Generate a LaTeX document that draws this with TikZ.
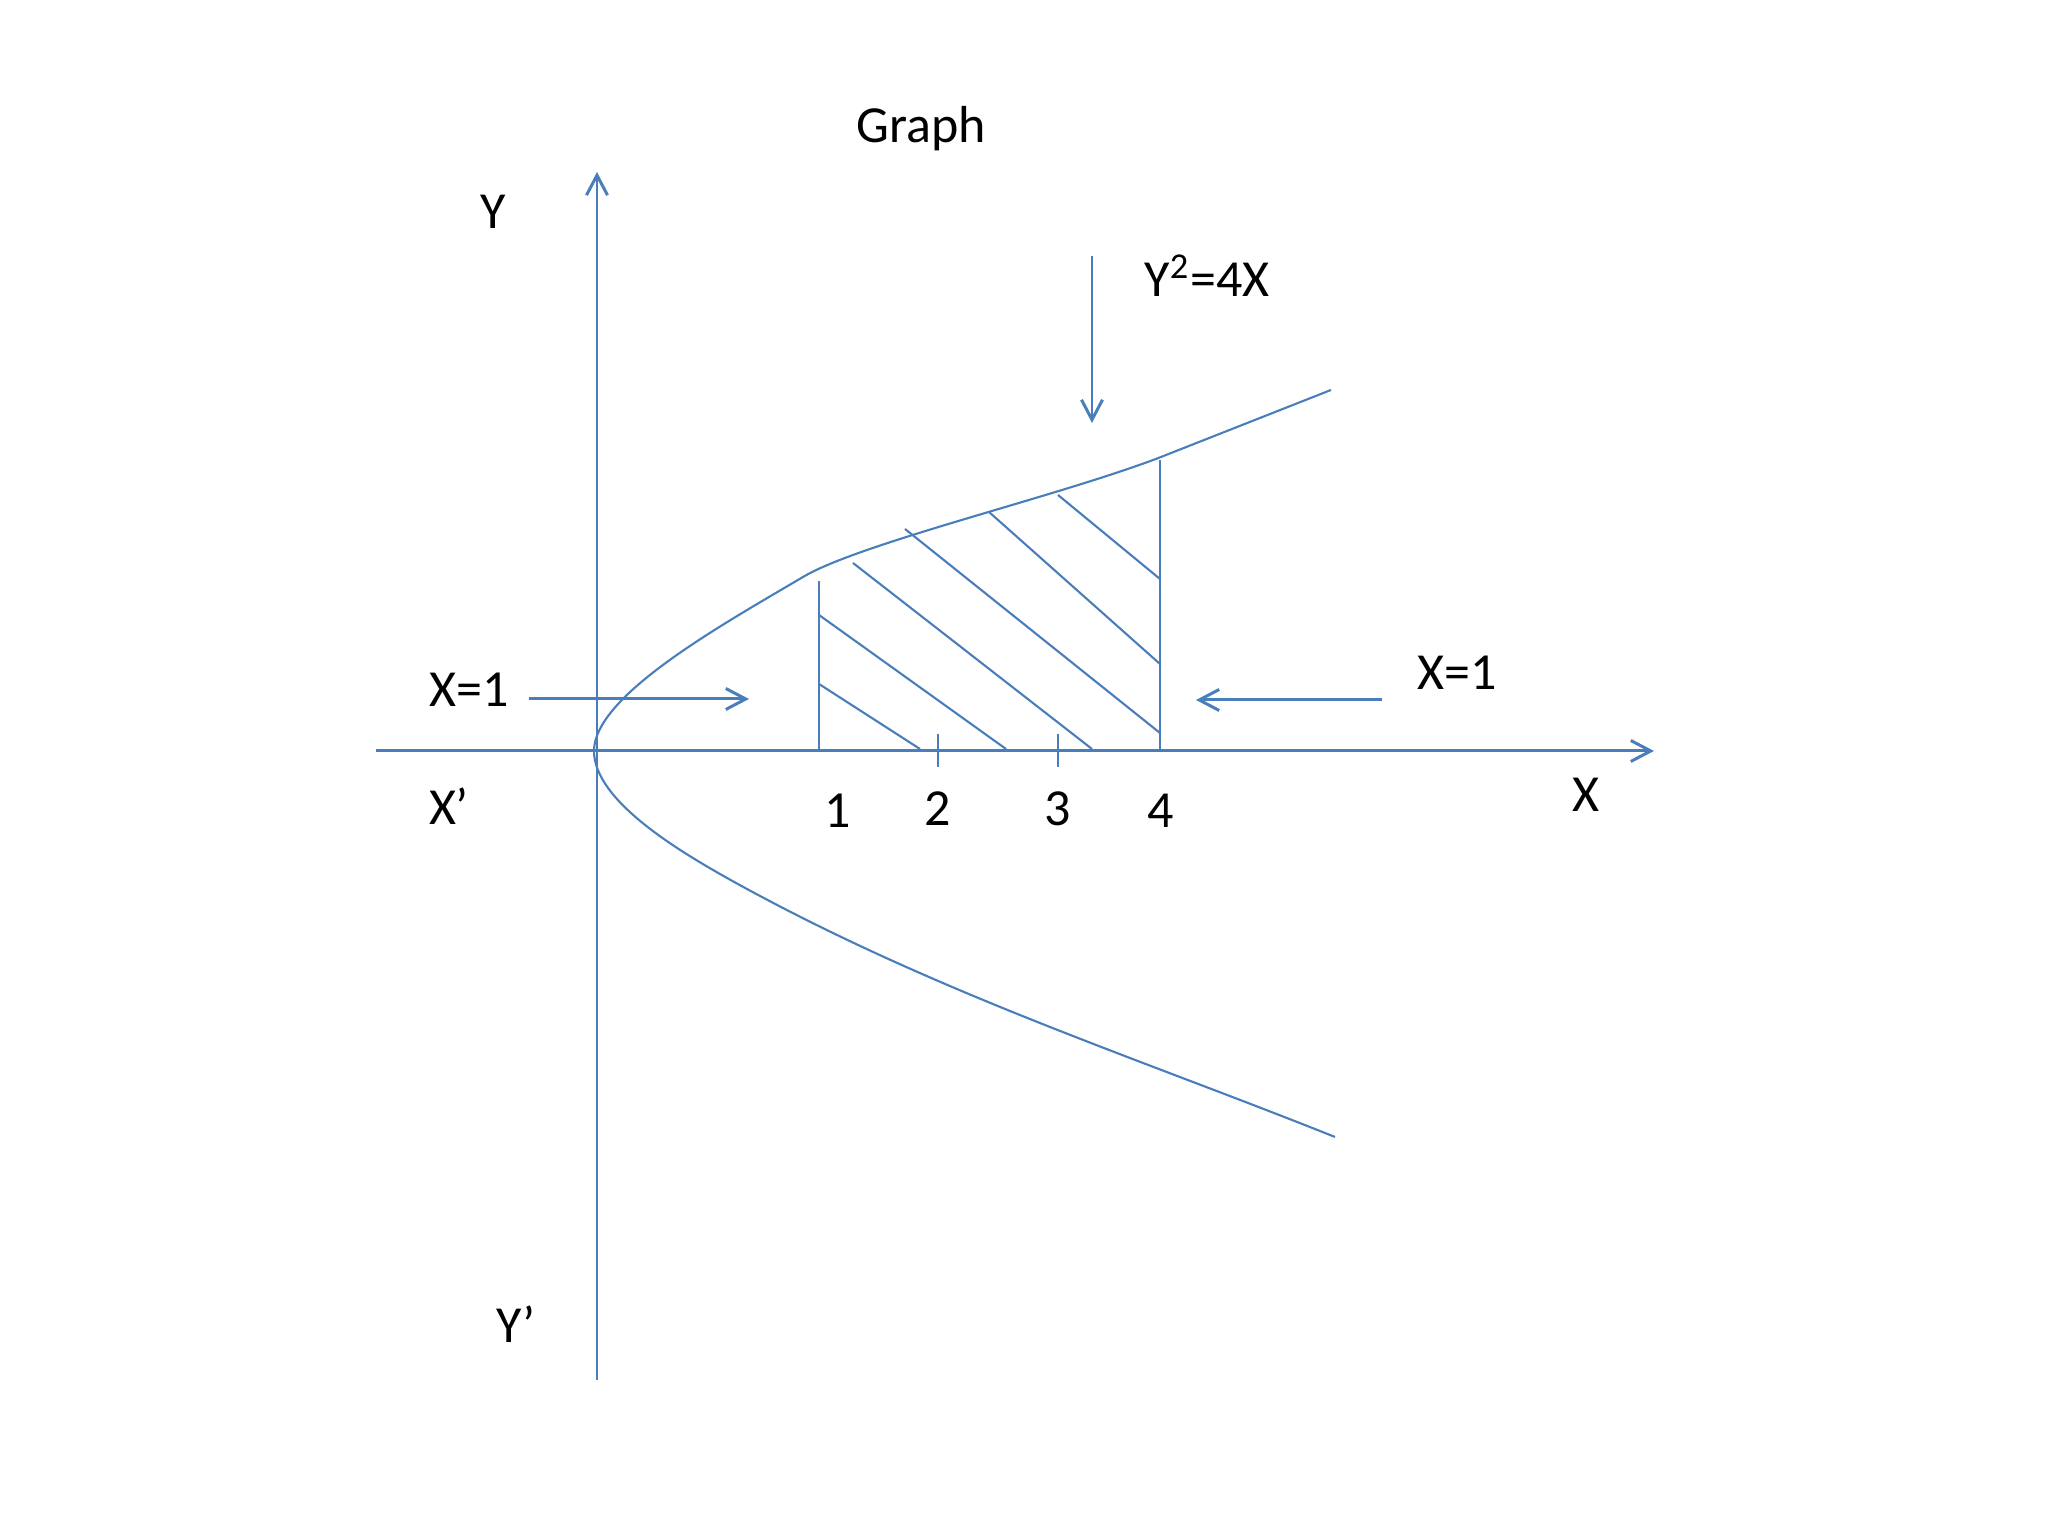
\documentclass[tikz,border=0pt]{standalone}
\usepackage{fontspec}
\setmainfont{Carlito}
\usepackage{tikz}
\usetikzlibrary{arrows.meta}
\definecolor{lineblue}{RGB}{74,126,187}
\tikzset{
	thinline/.style={line width=0.6pt, color=lineblue},
	arrowline/.style={line width=0.85pt, color=lineblue, -{Straight Barb[length=2mm,width=2.1mm]}},
	lbl/.style={anchor=base, inner sep=0pt, font=\fontsize{14.8}{17}\selectfont}
}

\begin{document}
\begin{tikzpicture}
			%%%%% START %%%%%
			\useasboundingbox (0, 0) rectangle (20.48, 15.36);
			
			% axes
			\coordinate (xneg) at (3.76, 7.85);
			\coordinate (xpos) at (16.54, 7.85);
			\coordinate (yneg) at (5.97, 1.56);
			\coordinate (ypos) at (5.97, 13.64);
			\draw[arrowline] (xneg) -- (xpos);
			\draw[arrowline] (yneg) -- (ypos);
			
			% parabola
			\coordinate (vertex) at (5.94, 7.85);
			\draw[thinline] (13.35, 3.99) .. controls (11.35, 4.79) and (9.36, 5.43) .. (7.36, 6.53)
				.. controls (6.80, 6.84) and (5.94, 7.35) .. (vertex)
				.. controls (5.94, 8.40) and (7.20, 9.10) .. (8.03, 9.59)
				.. controls (8.60, 9.93) and (10.60, 10.40) .. (11.61, 10.79)
				-- (13.31, 11.46);
			
			% bounds and ticks
			\draw[thinline] (8.19, 7.85) -- (8.19, 9.55);
			\draw[thinline] (11.60, 7.85) -- (11.60, 10.76);
			\draw[thinline] (9.38, 8.02) -- (9.38, 7.69);
			\draw[thinline] (10.58, 8.02) -- (10.58, 7.69);
			
			% hatching
			\draw[thinline] (8.19, 8.52) -- (9.20, 7.87);
			\draw[thinline] (8.19, 9.21) -- (10.06, 7.87);
			\draw[thinline] (8.53, 9.73) -- (10.92, 7.87);
			\draw[thinline] (9.05, 10.07) -- (11.60, 8.03);
			\draw[thinline] (9.89, 10.24) -- (11.60, 8.72);
			\draw[thinline] (10.58, 10.41) -- (11.60, 9.57);
			
			% pointers
			\coordinate (lfrom) at (5.29, 8.37);
			\coordinate (lto) at (7.49, 8.37);
			\coordinate (rfrom) at (13.82, 8.36);
			\coordinate (rto) at (11.96, 8.36);
			\coordinate (cfrom) at (10.92, 12.80);
			\coordinate (cto) at (10.92, 11.13);
			\draw[arrowline] (lfrom) -- (lto);
			\draw[arrowline] (rfrom) -- (rto);
			\draw[arrowline] (cfrom) -- (cto);
			
			% labels
			\node[lbl] (title) at (9.21, 13.93) {Graph};
			\node[lbl] (ylab) at (4.93, 13.07) {Y};
			\node[lbl] (ynlab) at (5.16, 1.93) {Y’};
			\node[lbl] (xlab) at (15.86, 7.24) {X};
			\node[lbl] (xnlab) at (4.49, 7.11) {X’};
			\node[lbl] (curvelab) at (12.07, 12.39) {Y\textsuperscript{2}=4X};
			\node[lbl] (leftlab) at (4.69, 8.29) {X=1};
			\node[lbl] (rightlab) at (14.57, 8.46) {X=1};
			\node[lbl] (one) at (8.38, 7.08) {1};
			\node[lbl] (two) at (9.38, 7.10) {2};
			\node[lbl] (three) at (10.58, 7.10) {3};
			\node[lbl] (four) at (11.61, 7.08) {4};
			
			%%%%% END %%%%%
		\end{tikzpicture}
\end{document}
